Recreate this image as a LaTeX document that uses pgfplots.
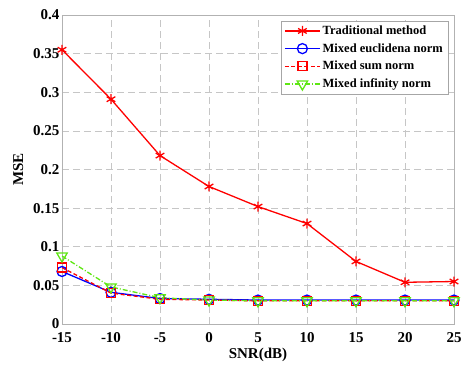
\documentclass[border=0pt]{standalone}
\usepackage{pgfplots}
\pgfplotsset{compat=1.18}
\usepackage{fontspec}
\setmainfont{Liberation Serif}
\definecolor{mygreen}{RGB}{95,230,20}
\begin{document}
\begin{tikzpicture}
\begin{axis}[
  name=ax,
  scale only axis, width=392pt, height=309pt,
  xmin=-15, xmax=25, ymin=0, ymax=0.4,
  xtick={-15,-10,...,25}, ytick={0,0.05,...,0.4},
  yticklabel style={/pgf/number format/fixed, xshift=1pt},
  xticklabel style={yshift=-5pt},
  /pgf/number format/assume math mode=true,
  tick label style={font=\fontsize{15}{17}\selectfont\bfseries},
  label style={font=\fontsize{15}{17}\selectfont\bfseries},
  xlabel={SNR(dB)}, ylabel={MSE},
  xlabel style={yshift=1pt}, ylabel style={yshift=3pt},
  grid=major, major grid style={dash pattern=on 7pt off 4pt, gray!45, line width=0.7pt},
  axis line style={gray!60, line width=0.8pt}, major tick length=0pt,
  legend style={font=\fontsize{12.5}{14}\selectfont\bfseries, draw=gray!70, line width=0.6pt,
    row sep=3.5pt, at={(0.985,0.982)}, anchor=north east, inner sep=3pt},
  legend cell align=left,
  legend image code/.code={\draw[mark repeat=2,mark phase=2] plot coordinates {(0cm,0cm) (0.62cm,0cm) (1.24cm,0cm)};},
]
\addplot[red, line width=1.3pt, mark=asterisk, mark size=5pt, mark options={solid, line width=1.3pt}] coordinates {
(-15,0.355) (-10,0.291) (-5,0.218) (0,0.178) (5,0.152) (10,0.130) (15,0.081) (20,0.054) (25,0.055)};
\addlegendentry{Traditional method}
\addplot[blue, line width=1.3pt, mark=o, mark size=5pt, mark options={solid}] coordinates {
(-15,0.068) (-10,0.041) (-5,0.033) (0,0.032) (5,0.031) (10,0.031) (15,0.031) (20,0.031) (25,0.031)};
\addlegendentry{Mixed euclidena norm}
\addplot[red, line width=1.3pt, dash pattern=on 4pt off 2.5pt, mark=square, mark size=4.5pt, mark options={solid}] coordinates {
(-15,0.073) (-10,0.040) (-5,0.032) (0,0.031) (5,0.030) (10,0.030) (15,0.030) (20,0.030) (25,0.030)};
\addlegendentry{Mixed sum norm}
\addplot[mygreen, line width=1.3pt, dash pattern=on 5pt off 2pt on 1pt off 2pt, mark=triangle, mark size=6pt, mark options={solid, rotate=180}] coordinates {
(-15,0.088) (-10,0.048) (-5,0.034) (0,0.031) (5,0.030) (10,0.030) (15,0.030) (20,0.030) (25,0.030)};
\addlegendentry{Mixed infinity norm}
\end{axis}
\pgfresetboundingbox
\path (ax.south west) ++(-62pt,-42pt) rectangle ([xshift=20pt,yshift=15pt]ax.north east);
\end{tikzpicture}
\end{document}
